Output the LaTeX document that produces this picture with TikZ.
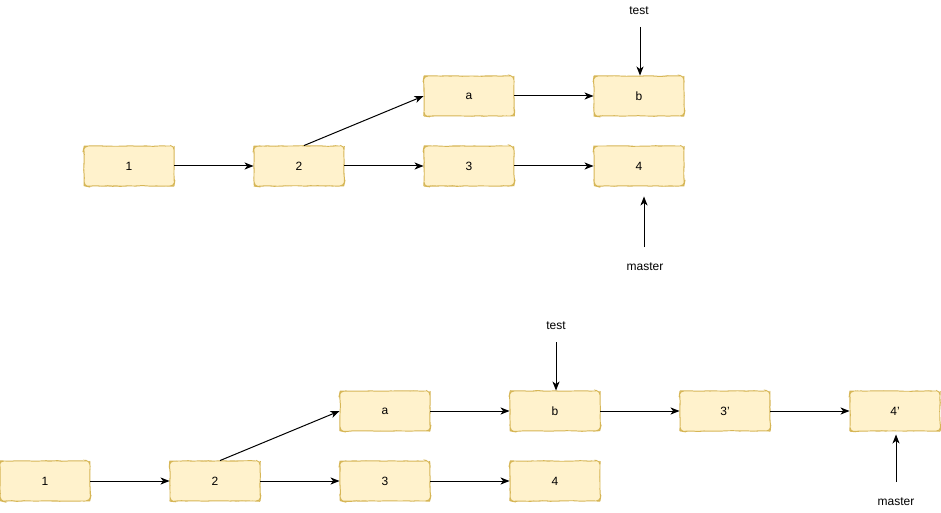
\documentclass[tikz,border=0pt]{standalone}
\usepackage{tikz, xcolor}
\usepackage{fontspec}
\setmainfont{Liberation Sans}
\usetikzlibrary{arrows.meta, decorations.pathmorphing}
\newcommand{\unitsize}{10pt}
\definecolor{commitfill}{HTML}{FFF2CC}
\definecolor{commitline}{HTML}{D6B656}

\begin{document}
\begin{tikzpicture}
\pgfmathsetseed{7}
\useasboundingbox (0*\unitsize,0*\unitsize) rectangle (94.1*\unitsize,51.2*\unitsize);
\tikzstyle{commit}=[draw=commitline,
                    fill=commitfill,
                    line width=0.9pt,
                    rounded corners=4pt,
                    decorate,
                    decoration={random steps,segment length=4pt,amplitude=0.35pt},
                    minimum width  = 9*\unitsize,
                    minimum height = 4*\unitsize,
                    inner sep=0pt,
                    font=\fontsize{12}{14}\selectfont
                    ]
\tikzstyle{branch}=[inner sep=0pt, font=\fontsize{12}{14}\selectfont]
\tikzstyle{link}=[line width=1pt, -{Stealth[length=9pt,width=7pt,inset=2.5pt]}]
% before the rebase
\node[commit] (top1) at (12.9*\unitsize,34.6*\unitsize) {1};
\node[commit] (top2) at (29.9*\unitsize,34.6*\unitsize) {2};
\node[commit] (top3) at (46.9*\unitsize,34.6*\unitsize) {3};
\node[commit] (top4) at (63.9*\unitsize,34.6*\unitsize) {4};
\node[commit] (topa) at (46.9*\unitsize,41.6*\unitsize) {a};
\node[commit] (topb) at (63.9*\unitsize,41.6*\unitsize) {b};
\node[branch] (toptest) at (63.9*\unitsize,50.1*\unitsize) {test};
\node[branch] (topmaster) at (64.5*\unitsize,24.5*\unitsize) {master};
\coordinate (toptestend) at (64.0*\unitsize,48.5*\unitsize);
\coordinate (topmasterend) at (64.4*\unitsize,26.5*\unitsize);
\draw[link] (top1) -- (top2);
\draw[link] (top2) -- (top3);
\draw[link] (top3) -- (top4);
\draw[link] ([xshift=0.5*\unitsize]top2.north) -- (topa.west);
\draw[link] (topa) -- (topb);
\draw[link] (toptestend) -- (toptestend |- topb.north);
\draw[link] (topmasterend) -- ([yshift=-1*\unitsize]topmasterend |- top4.south);
% after the rebase
\node[commit] (bot1) at (4.5*\unitsize,3.1*\unitsize) {1};
\node[commit] (bot2) at (21.5*\unitsize,3.1*\unitsize) {2};
\node[commit] (bot3) at (38.5*\unitsize,3.1*\unitsize) {3};
\node[commit] (bot4) at (55.5*\unitsize,3.1*\unitsize) {4};
\node[commit] (bota) at (38.5*\unitsize,10.1*\unitsize) {a};
\node[commit] (botb) at (55.5*\unitsize,10.1*\unitsize) {b};
\node[commit] (botc) at (72.5*\unitsize,10.1*\unitsize) {3'};
\node[commit] (botd) at (89.5*\unitsize,10.1*\unitsize) {4'};
\node[branch] (bottest) at (55.6*\unitsize,18.6*\unitsize) {test};
\node[branch] (botmaster) at (89.6*\unitsize,1.0*\unitsize) {master};
\coordinate (bottestend) at (55.6*\unitsize,17.0*\unitsize);
\coordinate (botmasterend) at (89.6*\unitsize,3.0*\unitsize);
\draw[link] (bot1) -- (bot2);
\draw[link] (bot2) -- (bot3);
\draw[link] (bot3) -- (bot4);
\draw[link] ([xshift=0.5*\unitsize]bot2.north) -- (bota.west);
\draw[link] (bota) -- (botb);
\draw[link] (botb) -- (botc);
\draw[link] (botc) -- (botd);
\draw[link] (bottestend) -- (bottestend |- botb.north);
\draw[link] (botmasterend) -- ([yshift=-0.3*\unitsize]botmasterend |- botd.south);
\end{tikzpicture}
\end{document}
